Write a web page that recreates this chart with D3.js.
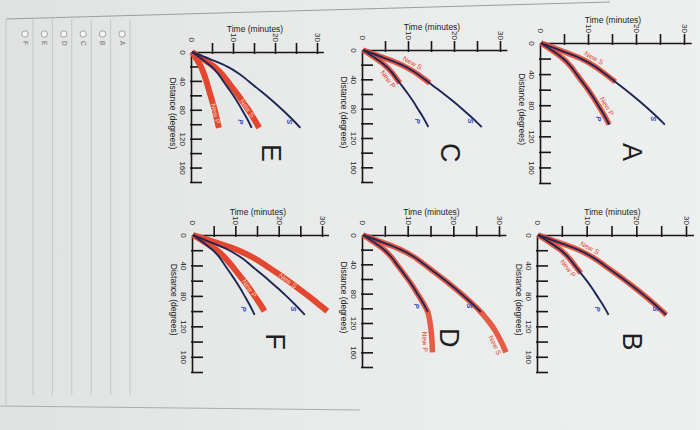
<!DOCTYPE html>
<html>
<head>
<meta charset="utf-8">
<script src="https://cdn.jsdelivr.net/npm/d3@7"></script>
<style>
  body { margin: 0; background: #e6e9e7; }
  svg { display: block; font-family: "Liberation Sans", Arial, sans-serif; }
</style>
</head>
<body>
<script>
// travel-time data (distance in degrees, time in minutes)
var distance = [0, 10, 20, 30, 40, 50, 60, 70, 80, 90, 100, 105];
var pTime = [0, 2.4, 4.6, 6.2, 7.4, 8.6, 9.8, 10.9, 11.9, 12.9, 13.8, 14.2];
var sTime = [0, 4.3, 8.3, 11.2, 13.4, 15.5, 17.6, 19.6, 21.5, 23.3, 25.0, 25.8];

// partial overlays (A, B, C)
var dist50 = [0, 10, 20, 30, 40, 50];
var pTime50 = [0, 2.4, 4.6, 6.2, 7.4, 8.6];
var sTime50 = [0, 4.3, 8.3, 11.2, 13.4, 15.5];
var dist45 = [0, 10, 20, 30, 40, 45];
var pTime45 = [0, 2.4, 4.6, 6.2, 7.4, 8.0];
var sTime45 = [0, 4.3, 8.3, 11.2, 13.4, 14.5];

// extended curves (D)
var distExt = [0, 10, 20, 30, 40, 50, 60, 70, 80, 90, 100, 105, 110, 120, 130, 140, 150, 160];
var newPTimeD = [0, 2.4, 4.6, 6.2, 7.4, 8.6, 9.8, 10.9, 11.9, 12.9, 13.8, 14.2, 14.4, 14.7, 14.9, 15.05, 15.15, 15.2];
var newSTimeD = [0, 4.3, 8.3, 11.2, 13.4, 15.5, 17.6, 19.6, 21.5, 23.3, 25.0, 25.8, 26.5, 27.8, 28.9, 29.8, 30.6, 31.3];

// faster curves (E)
var newSTimeE = [0, 2.7, 5.2, 7.0, 8.4, 9.7, 11.0, 12.2, 13.4, 14.5, 15.5, 16.0];
var newPTimeE = [0, 1.1, 2.1, 2.8, 3.4, 3.9, 4.4, 4.9, 5.4, 5.8, 6.2, 6.4];

// slower curves (F)
var dist100 = [0, 10, 20, 30, 40, 50, 60, 70, 80, 90, 100];
var newSTimeF = [0, 5.4, 10.4, 14.0, 16.8, 19.4, 21.9, 24.3, 26.6, 28.8, 31.0];
var newPTimeF = [0, 2.9, 5.5, 7.4, 8.9, 10.3, 11.7, 13.0, 14.2, 15.4, 16.5];

var timeTicks = [0, 5, 10, 15, 20, 25, 30];
var distTicks = [0, 20, 40, 60, 80, 100, 120, 140, 160, 180];
var optionLetters = ["A", "B", "C", "D", "E", "F"];

var panels = [
  {letter: "A", newS: [dist50, sTime50], newP: [distance, pTime], sLab: [27, 1], pLab: [86, 1]},
  {letter: "B", newS: [distance, sTime], newP: [dist50, pTime50], sLab: [25, 1], pLab: [38, -1]},
  {letter: "C", newS: [dist45, sTime45], newP: [dist45, pTime45], sLab: [26, 1], pLab: [34, -1]},
  {letter: "D", newS: [distExt, newSTimeD], newP: [distExt, newPTimeD], sLab: [146, -1], pLab: [145, -1]},
  {letter: "E", newS: [distance, newSTimeE], newP: [distance, newPTimeE], sLab: [78, 0], pLab: [85, 0]},
  {letter: "F", newS: [dist100, newSTimeF], newP: [dist100, newPTimeF], sLab: [60, 0], pLab: [70, 0]}
];

// where each little chart sits in the (rotated) photo
var layout = {
  A: {ox: 541, oy: 43, tLen: 144, dLen: 140},
  B: {ox: 538, oy: 235, tLen: 149, dLen: 137},
  C: {ox: 363, oy: 50, tLen: 138, dLen: 132},
  D: {ox: 363, oy: 235, tLen: 137, dLen: 132},
  E: {ox: 192, oy: 52, tLen: 126, dLen: 130},
  F: {ox: 193, oy: 235, tLen: 130, dLen: 137}
};

var navy = "#1e2656";
var red = "#e4472f";
var blue = "#3347c4";

var svg = d3.select("body").append("svg")
  .attr("width", 700)
  .attr("height", 430);

// page background
var grad = svg.append("defs").append("linearGradient").attr("id", "bg");
grad.append("stop").attr("offset", "0%").attr("stop-color", "#dfe2e0");
grad.append("stop").attr("offset", "45%").attr("stop-color", "#e8ebe9");
grad.append("stop").attr("offset", "100%").attr("stop-color", "#eef0ef");
svg.append("rect").attr("width", 700).attr("height", 430).attr("fill", "url(#bg)");

svg.append("line").attr("x1", 6).attr("y1", 19).attr("x2", 610).attr("y2", 2)
  .attr("stroke", "#9a9e9c").attr("stroke-width", 1);
svg.append("line").attr("x1", 0).attr("y1", 406).attr("x2", 360).attr("y2", 410)
  .attr("stroke", "#a9adab").attr("stroke-width", 1);
svg.append("line").attr("x1", 6).attr("y1", 19).attr("x2", 6).attr("y2", 405)
  .attr("stroke", "#c4c8c6");

// answer options (rotated list on the left)
var optX = d3.scalePoint().domain(optionLetters).range([122, 25]);
optionLetters.forEach(function(l) {
  svg.append("line")
    .attr("x1", optX(l) + 8).attr("x2", optX(l) + 8)
    .attr("y1", 19).attr("y2", 395)
    .attr("stroke", "#c3c7c5");
  var og = svg.append("g").attr("transform", "translate(" + optX(l) + ",34) rotate(90)");
  og.append("circle").attr("r", 3.2).attr("fill", "#f4f5f4").attr("stroke", "#8c8f8e").attr("stroke-width", 0.8);
  og.append("text").attr("x", 7).attr("dy", "0.35em")
    .attr("font-size", "6.5px").attr("fill", "#6f7371").text(l);
});

function drawPanel(p) {
  var L = layout[p.letter];
  var g = svg.append("g").attr("transform", "translate(" + L.ox + "," + L.oy + ") rotate(90)");

  var x = d3.scaleLinear().domain([0, 180]).range([0, L.dLen]);
  var y = d3.scaleLinear().domain([0, 31.5]).range([0, -L.tLen * 31.5 / 30]);

  var line = d3.line()
    .x(function(d) { return x(d[0]); })
    .y(function(d) { return y(d[1]); })
    .curve(d3.curveMonotoneX);

  // axes
  var yAxis = g.append("g").call(d3.axisLeft(y)
    .tickValues(timeTicks)
    .tickFormat(function(d) { return d % 10 === 0 ? d : ""; })
    .tickSize(9).tickSizeOuter(0).tickPadding(1));
  yAxis.selectAll(".tick line").attr("x1", 2)
    .attr("display", function(d) { return d === 0 ? "none" : null; });

  var xAxis = g.append("g").call(d3.axisBottom(x)
    .tickValues(distTicks)
    .tickFormat(function(d) { return d % 40 === 0 ? d : ""; })
    .tickSizeInner(-10).tickSizeOuter(0).tickPadding(6));
  xAxis.selectAll(".tick line").attr("y1", 2)
    .attr("display", function(d) { return d === 0 ? "none" : null; });

  g.selectAll(".domain, .tick line").attr("stroke", "#161616").attr("stroke-width", 1.6);
  g.selectAll(".tick text").attr("font-size", "8px").attr("fill", "#1c1c1c")
    .attr("font-family", "'Liberation Sans', Arial, sans-serif");

  g.append("text")
    .attr("transform", "translate(-23," + y(15) + ") rotate(-90)")
    .attr("text-anchor", "middle").attr("dy", "0.35em")
    .attr("font-size", "8.5px").attr("fill", "#222")
    .text("Time (minutes)");

  g.append("text")
    .attr("x", x(85)).attr("y", 19)
    .attr("text-anchor", "middle").attr("dy", "0.35em")
    .attr("font-size", "8.5px").attr("fill", "#222")
    .text("Distance (degrees)");

  // red "new" curves under the original ones
  var onLine = p.sLab[1] === 0;
  [p.newS, p.newP].forEach(function(c) {
    g.append("path")
      .datum(d3.zip(c[0], c[1]))
      .attr("d", line)
      .attr("fill", "none")
      .attr("stroke", red)
      .attr("stroke-opacity", onLine ? 1 : 0.88)
      .attr("stroke-width", onLine ? 6 : 5.5)
      .attr("stroke-linecap", "butt");
  });

  [sTime, pTime].forEach(function(t) {
    g.append("path")
      .datum(d3.zip(distance, t))
      .attr("d", line)
      .attr("fill", "none")
      .attr("stroke", navy)
      .attr("stroke-width", 1.9);
  });

  // P / S labels near curve ends
  var last = distance.length - 1;
  [["S", sTime], ["P", pTime]].forEach(function(s) {
    g.append("text")
      .attr("x", x(distance[last]) - 6)
      .attr("y", y(s[1][last]) + 11)
      .attr("text-anchor", "middle").attr("dy", "0.35em")
      .attr("font-size", "7.5px").attr("font-weight", "bold")
      .attr("font-style", "italic").attr("fill", blue)
      .text(s[0]);
  });

  // "New S" / "New P" labels along the red curves
  function along(c, dAt, side, label) {
    var dArr = c[0], tArr = c[1];
    var i = d3.bisectRight(dArr, dAt) - 1;
    i = Math.max(0, Math.min(i, dArr.length - 2));
    var f = (dAt - dArr[i]) / (dArr[i + 1] - dArr[i]);
    var x1 = x(dArr[i]), y1 = y(tArr[i]), x2 = x(dArr[i + 1]), y2 = y(tArr[i + 1]);
    var px = x1 + (x2 - x1) * f, py = y1 + (y2 - y1) * f;
    var a = Math.atan2(y2 - y1, x2 - x1);
    var off = side * 7;
    px += Math.sin(a) * off;
    py += -Math.cos(a) * off;
    g.append("text")
      .attr("transform", "translate(" + px + "," + py + ") rotate(" + (a * 180 / Math.PI) + ")")
      .attr("text-anchor", "middle").attr("dy", "0.35em")
      .attr("font-size", "7px")
      .attr("fill", side === 0 ? "#f8c9bd" : red)
      .text(label);
  }
  along(p.newS, p.sLab[0], p.sLab[1], "New S");
  along(p.newP, p.pLab[0], p.pLab[1], "New P");

  // panel letter
  g.append("text")
    .attr("x", x(140)).attr("y", y(19))
    .attr("text-anchor", "middle").attr("dy", "0.35em")
    .attr("font-size", "27px").attr("fill", "#1f1f1f")
    .text(p.letter);
}

panels.forEach(drawPanel);
</script>
</body>
</html>
